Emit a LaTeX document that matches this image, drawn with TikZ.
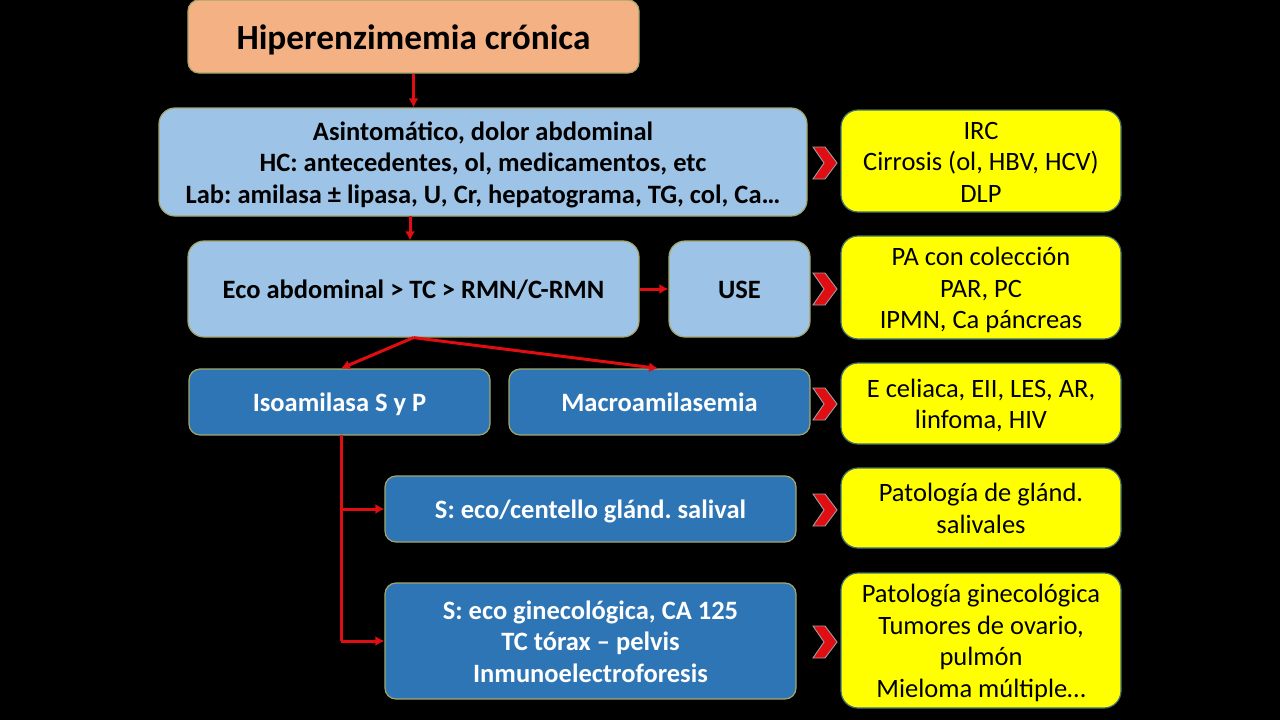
\documentclass[tikz,border=0pt]{standalone}
\usepackage{fontspec}
\setmainfont{Carlito}
\AtBeginDocument{\frenchspacing}
\usetikzlibrary{arrows.meta,calc}
\definecolor{salmon}{HTML}{F4B183}
\definecolor{lblue}{HTML}{9DC3E6}
\definecolor{dblue}{HTML}{2E75B6}
\definecolor{yel}{HTML}{FFFF00}
\definecolor{edgeg}{HTML}{A5A56A}
\definecolor{edgey}{HTML}{3F6F6F}
\definecolor{arrred}{HTML}{E00D12}
\tikzset{
  x=1pt,y=-1pt,
  boxbase/.style={rounded corners=#1,draw=edgeg,line width=1.2pt,align=center,inner sep=0pt,anchor=center,font=\fontsize{26.5}{31.5}\selectfont\bfseries},
  boxbase/.default=14pt,
  titlebox/.style={boxbase=11pt,fill=salmon,text=black,font=\fontsize{35.3}{40}\selectfont\bfseries},
  lightbox/.style={boxbase=16pt,fill=lblue,text=black},
  darkbox/.style={boxbase=11pt,fill=dblue,text=white},
  yelbox/.style={boxbase=17pt,fill=yel,draw=edgey,text=black,font=\fontsize{26.5}{31.5}\selectfont},
  link/.style={draw=arrred,line width=3pt,-{Latex[length=9pt,width=10pt]}},
  linkplain/.style={draw=arrred,line width=3pt},
  chev/.style={fill=arrred,draw=gray!75,line width=0.9pt,line join=miter}
}
\newcommand{\lstrut}{\rule[-.226em]{0pt}{1.17em}}
\newcommand{\boxat}[7]{\node[#1,minimum width=#5pt-#3pt,minimum height=#6pt-#4pt] (#2) at ({(#3+#5)/2},{(#4+#6)/2}) {\lstrut #7\lstrut};}
\newcommand{\chevat}[2]{\draw[chev] (#1,#2-16) -- (#1+12,#2-16) -- (#1+24,#2) -- (#1+12,#2+16) -- (#1,#2+16) -- (#1+11,#2) -- cycle;}
\begin{document}
\begin{tikzpicture}
\useasboundingbox (0,0) rectangle (1280,720);
\fill[black] (0,0) rectangle (1280,720);
\boxat{titlebox}{title}{188}{0}{639}{73}{Hiperenzimemia crónica}
\boxat{lightbox}{sym}{159}{108}{807}{216}{Asintomático, dolor abdominal\\HC: antecedentes, ol, medicamentos, etc\\Lab: amilasa ± lipasa, U, Cr, hepatograma, TG, col, Ca…}
\boxat{lightbox}{eco}{188}{241}{639}{337}{Eco abdominal > TC > RMN/C-RMN}
\boxat{lightbox}{use}{669}{241}{810}{337}{USE}
\boxat{darkbox}{iso}{189}{369}{490}{435}{Isoamilasa S y P}
\boxat{darkbox}{macro}{509}{369}{810}{435}{Macroamilasemia}
\boxat{darkbox}{sal}{385}{476}{796}{542}{S: eco/centello glánd. salival}
\boxat{darkbox}{gin}{385}{583}{796}{699}{S: eco ginecológica, CA 125\\TC tórax – pelvis\\Inmunoelectroforesis}
\boxat{yelbox}{y1}{841}{110}{1121}{212}{IRC\\Cirrosis (ol, HBV, HCV)\\DLP}
\boxat{yelbox}{y2}{841}{236}{1121}{339}{PA con colección\\PAR, PC\\IPMN, Ca páncreas}
\boxat{yelbox}{y3}{841}{363}{1121}{444}{E celiaca, EII, LES, AR,\\linfoma, HIV}
\boxat{yelbox}{y4}{841}{468}{1121}{548}{Patología de glánd.\\salivales}
\boxat{yelbox}{y5}{841}{573}{1121}{708}{Patología ginecológica\\Tumores de ovario,\\pulmón\\Mieloma múltiple…}
\coordinate (symout) at (410,216);
\coordinate (isoout) at (341,435);
\draw[link] (title.south) -- (title.south |- sym.north);
\draw[link] (symout) -- (symout |- eco.north);
\draw[link] (eco.east) -- (use.west);
\draw[link] (eco.south) -- ([xshift=1.5pt]iso.north);
\draw[link] (eco.south) -- ([xshift=-1.5pt]macro.north);
\draw[linkplain] (isoout) -- (isoout |- gin.west);
\draw[link] (isoout |- sal.west) -- (sal.west);
\draw[link] (isoout |- gin.west) -- (gin.west);
\chevat{813}{163}
\chevat{813}{289}
\chevat{813}{404}
\chevat{813}{510}
\chevat{813}{642}
\end{tikzpicture}
\end{document}
